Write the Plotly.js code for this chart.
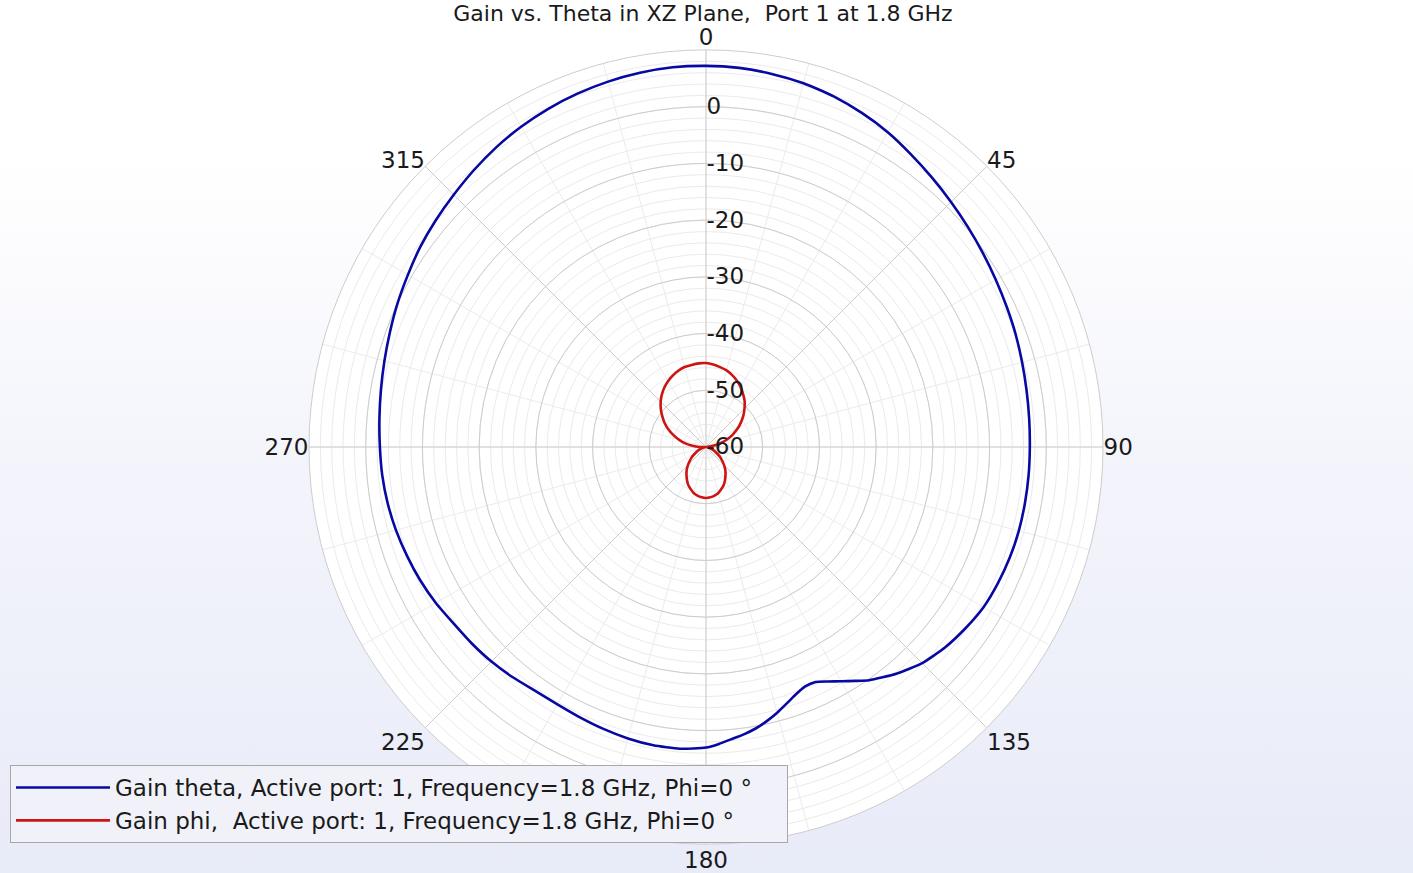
<!DOCTYPE html>
<html>
<head>
<meta charset="utf-8">
<script src="https://cdn.plot.ly/plotly-3.0.1.min.js"></script>
<style>
html,body{margin:0;padding:0;width:1413px;height:873px;overflow:hidden;
background:linear-gradient(to bottom,#ffffff 0%,#ffffff 18%,#f3f4fb 55%,#e8ebf8 100%);}
#chart{width:1413px;height:873px;}
</style>
</head>
<body>
<div id="chart"></div>
<script>
// Gain theta (dB) vs theta (deg)
const thetaBlue = [0,5,10,15,20,25,30,35,40,45,50,55,60,65,70,75,80,85,90,95,100,105,110,115,120,125,130,135,140,145,147.5,150,152.5,155,157.5,160,162.5,165,167.5,170,172.5,175,177.5,180,185,190,195,200,205,210,215,220,225,230,235,240,245,250,255,260,265,270,275,280,285,290,295,300,305,310,315,320,325,330,335,340,345,350,355,360];
const gainTheta = [7.2,7.1,6.8,6.4,5.8,5.0,4.1,3.0,2.0,1.1,0.3,-0.4,-1.0,-1.5,-1.9,-2.3,-2.6,-2.8,-2.9,-2.9,-2.9,-2.9,-3.0,-3.2,-3.5,-4.2,-5.0,-6.1,-7.8,-9.8,-11.1,-12.3,-13.4,-14.3,-14.3,-13.6,-12.6,-11.5,-10.5,-9.6,-8.9,-8.3,-7.6,-7.0,-6.6,-6.6,-6.8,-7.1,-7.4,-7.6,-7.5,-7.0,-6.5,-6.1,-5.7,-5.0,-4.4,-3.9,-3.4,-3.0,-2.7,-2.5,-2.2,-1.8,-1.3,-0.7,0.0,0.7,1.5,2.2,2.9,3.7,4.5,5.2,5.8,6.3,6.7,7.0,7.2,7.2];

// Gain phi (dB) vs theta (deg)
const thetaRed = [0,5,10,15,20,25,30,35,40,45,50,55,60,65,70,75,80,85,90,95,100,105,110,115,120,125,130,135,140,145,150,155,160,165,170,175,180,185,190,195,200,205,210,215,220,225,230,235,240,245,250,255,260,265,270,275,280,285,290,295,300,305,310,315,320,325,330,335,340,345,350,355,360];
const gainPhi = [-45.2,-45.4,-45.7,-46.0,-46.5,-47.1,-47.8,-48.6,-49.4,-50.4,-51.4,-52.5,-53.6,-54.8,-56.0,-57.3,-58.6,-59.9,-60.0,-59.9,-59.7,-59.4,-59.0,-58.4,-57.8,-57.0,-56.3,-55.5,-54.7,-54.0,-53.3,-52.6,-52.1,-51.6,-51.3,-51.1,-51.0,-51.1,-51.3,-51.6,-52.1,-52.6,-53.3,-54.0,-54.7,-55.5,-56.3,-57.0,-57.8,-58.4,-59.0,-59.4,-59.7,-59.9,-58.8,-57.6,-56.3,-55.1,-53.9,-52.7,-51.6,-50.6,-49.6,-48.7,-47.9,-47.2,-46.6,-46.1,-45.7,-45.4,-45.3,-45.2,-45.2];

const seriesNames = [
  "Gain theta, Active port: 1, Frequency=1.8 GHz, Phi=0 \u00b0\u00a0\u00a0\u00a0\u00a0",
  "Gain phi,\u00a0 Active port: 1, Frequency=1.8 GHz, Phi=0 \u00b0"
];
const titleText = "Gain vs. Theta in XZ Plane,\u00a0 Port 1 at 1.8 GHz";

const radialRange = [-60, 10];
const radialMajor = [-60,-50,-40,-30,-20,-10,0];
const radialMajorText = ["-60","-50","-40","-30","-20","-10","0"];
const radialMinor = [-58,-56,-54,-52,-50,-48,-46,-44,-42,-40,-38,-36,-34,-32,-30,-28,-26,-24,-22,-20,-18,-16,-14,-12,-10,-8,-6,-4,-2,0,2,4,6,8];
const angMajor = [0,45,90,135,180,225,270,315];
const angMajorText = ["0","45","90","135","180","225","270","315"];
const angMinor = [0,15,30,45,60,75,90,105,120,135,150,165,180,195,210,225,240,255,270,285,300,315,330,345];

const FONT = "DejaVu Sans, Verdana, sans-serif";
const FS = 23;

const emptyTrace = (sp) => ({type:'scatterpolar', mode:'lines', r:[], theta:[], subplot:sp,
   showlegend:false, hoverinfo:'skip', line:{color:'rgba(0,0,0,0)'}});

const traces = [
  emptyTrace('polar'),
  emptyTrace('polar3'),
  {type:'scatterpolar', mode:'lines', r:gainTheta, theta:thetaBlue, subplot:'polar2',
   name:seriesNames[0], line:{color:'#0808a2', width:2.6, shape:'spline', smoothing:0.5}},
  {type:'scatterpolar', mode:'lines', r:gainPhi, theta:thetaRed, subplot:'polar2',
   name:seriesNames[1], line:{color:'#cc1414', width:2.6, shape:'spline', smoothing:0.5}}
];

const cx = 706, cy = 447, R = 397, W = 1413, H = 873;
const domOf = (rr) => ({x:[(cx-rr)/W, (cx+rr)/W], y:[(H-cy-rr)/H, (H-cy+rr)/H]});
const dom = domOf(R);
const domLabels = domOf(R);

const layout = {
  width:W, height:H,
  margin:{l:0,r:0,t:0,b:0},
  paper_bgcolor:'rgba(0,0,0,0)',
  font:{family:FONT, size:FS, color:'#1a1a1a'},
  title:{text:titleText, x:0.4975, xanchor:'center', y:1-13/H, yanchor:'middle',
         font:{family:FONT, size:22, color:'#1a1a1a'}},
  showlegend:true,
  legend:{x:10/W, xanchor:'left', y:1-765/H, yanchor:'top',
          bgcolor:'#f1f2f9', bordercolor:'#a8a8a8', borderwidth:1,
          font:{family:FONT, size:FS, color:'#1a1a1a'}, itemwidth:94, tracegroupgap:0},
  polar:{
    domain:dom, bgcolor:'#ffffff',
    radialaxis:{range:radialRange, tickvals:radialMinor, showticklabels:false, ticks:'',
                showline:false, gridcolor:'#ebebeb', gridwidth:1},
    angularaxis:{rotation:90, direction:'clockwise', tickvals:angMinor, showticklabels:false,
                 ticks:'', showline:false, gridcolor:'#ebebeb', gridwidth:1}
  },
  polar3:{
    domain:domLabels, bgcolor:'rgba(0,0,0,0)',
    radialaxis:{range:radialRange, visible:false, showgrid:false},
    angularaxis:{rotation:90, direction:'clockwise', tickvals:angMajor, ticktext:angMajorText,
                 ticks:'', showline:false, showgrid:false,
                 tickfont:{family:FONT, size:FS, color:'#1a1a1a'}}
  },
  polar2:{
    domain:dom, bgcolor:'rgba(0,0,0,0)',
    radialaxis:{range:radialRange, tickvals:radialMajor, ticktext:radialMajorText, ticks:'',
                showline:false, gridcolor:'#cdcdcd', gridwidth:1, angle:90, side:'clockwise',
                tickangle:90, tickfont:{family:FONT, size:FS, color:'#1a1a1a'}},
    angularaxis:{rotation:90, direction:'clockwise', tickvals:angMajor, showticklabels:false,
                 ticks:'', showline:true, linecolor:'#cdcdcd', linewidth:1, gridcolor:'#cdcdcd', gridwidth:1}
  }
};

Plotly.newPlot('chart', traces, layout, {displayModeBar:false, staticPlot:true});
</script>
</body>
</html>
